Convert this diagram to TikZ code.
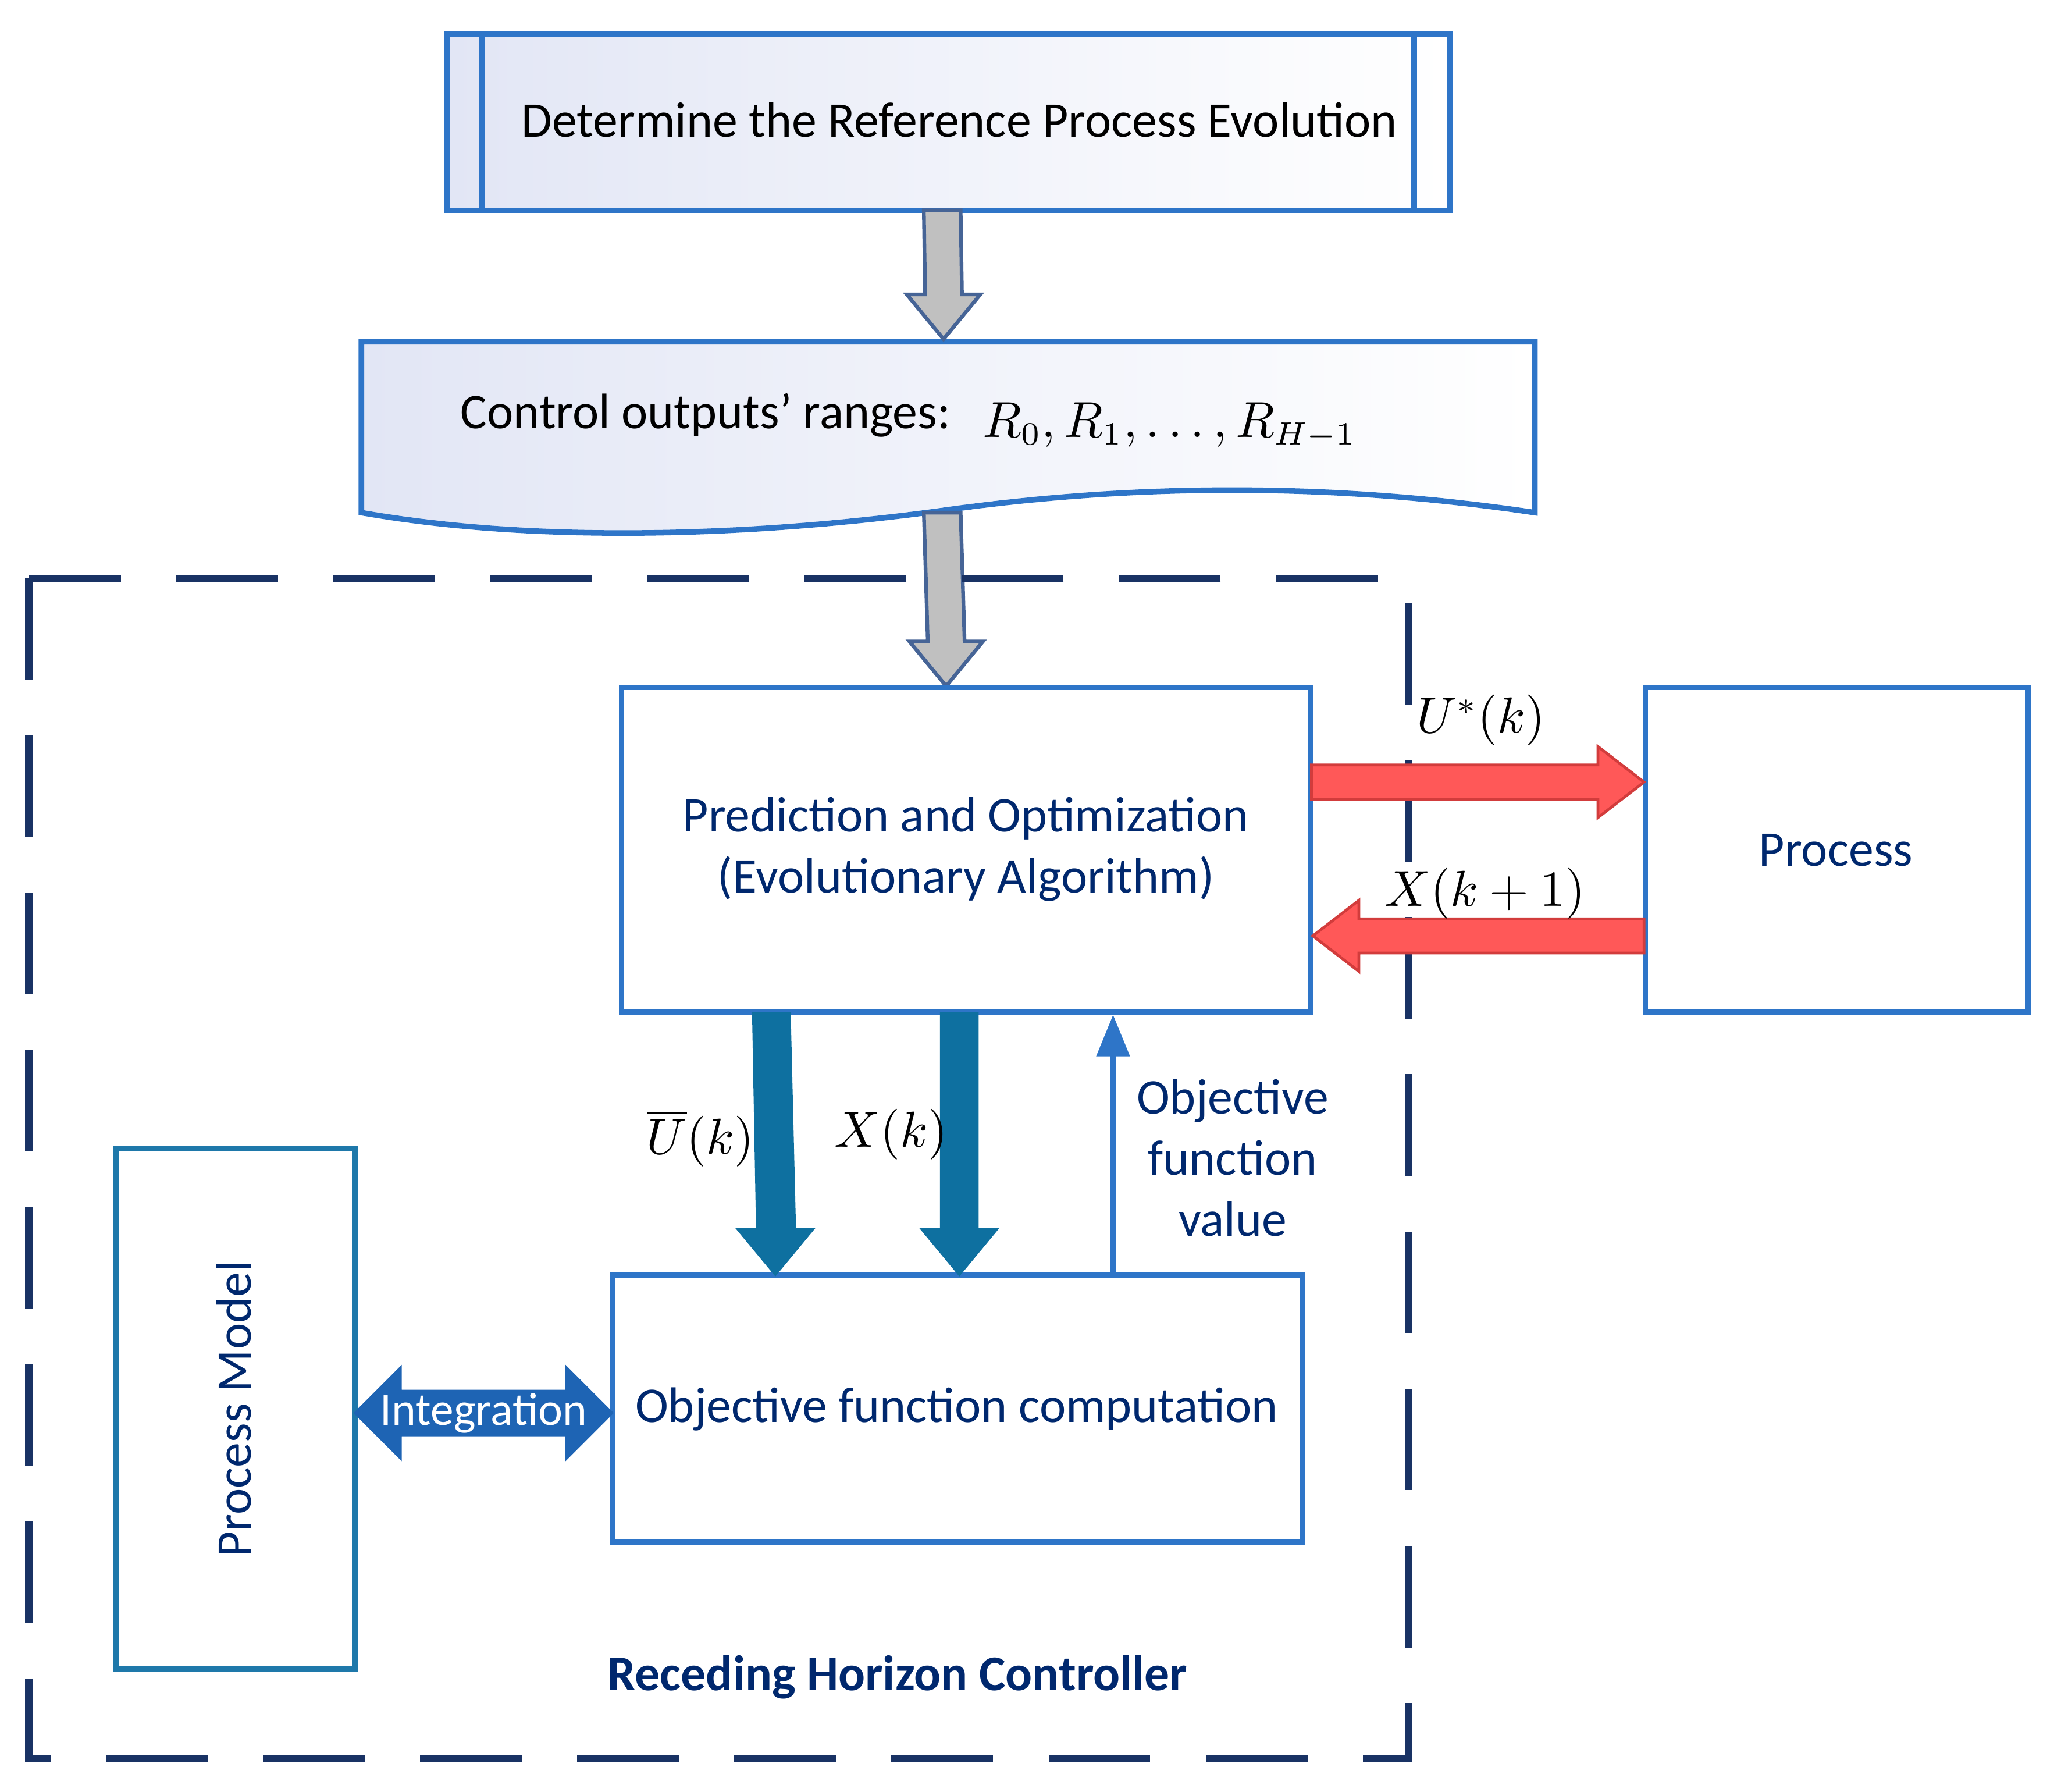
\documentclass[tikz,border=0pt]{standalone}
\usepackage{fontspec}
\setmainfont{Carlito}
\usetikzlibrary{calc,arrows.meta}
\definecolor{boxblue}{RGB}{46,117,200}
\definecolor{navy}{RGB}{0,40,110}
\definecolor{dashnavy}{RGB}{25,50,100}
\definecolor{redfill}{RGB}{255,88,88}
\definecolor{redline}{RGB}{210,60,60}
\definecolor{tealblue}{RGB}{14,112,160}
\definecolor{pmline}{RGB}{30,120,170}
\definecolor{grayfill}{RGB}{192,192,192}
\definecolor{grayline}{RGB}{70,100,150}
\definecolor{dblue}{RGB}{30,100,180}
\definecolor{shade}{RGB}{226,230,245}
\begin{document}
\begin{tikzpicture}[x=0.01cm,y=-0.01cm,
  box/.style={draw=boxblue,line width=1.2pt},
  txt/.style={text=navy,font=\fontsize{10.8}{13.2}\selectfont,align=center},
  mth/.style={font=\fontsize{10.5}{12}\selectfont},
  grayarr/.style={fill=grayfill,draw=grayline,line width=0.8pt},
  redarr/.style={fill=redfill,draw=redline,line width=0.6pt},
  bluearr/.style={fill=tealblue,draw=tealblue}]
\useasboundingbox (0,0) rectangle (1563,1363);
% top predefined process
\shade[left color=shade,right color=white] (340,26) rectangle (1103,160);
\draw[box] (340,26) rectangle (1103,160);
\draw[box] (367,26) -- (367,160) (1076,26) -- (1076,160);
\node[txt,text=black] (top) at (730,91) {Determine the Reference Process Evolution};
% document shape
\shade[left color=shade,right color=white] (275,260) -- (1168,260) -- (1168,390)
  .. controls (1000,365) and (850,370) .. (720,388)
  .. controls (560,410) and (400,412) .. (275,390) -- cycle;
\draw[box] (275,260) -- (1168,260) -- (1168,390)
  .. controls (1000,365) and (850,370) .. (720,388)
  .. controls (560,410) and (400,412) .. (275,390) -- cycle;
\node[txt,text=black] (rng) at (537,316) {Control outputs’ ranges:};
\node[mth,text=black] (rmath) at (890,324) {$R_0,R_1,\ldots,R_{H-1}$};
% gray arrows
\draw[grayarr] (703,160) -- (731,160) -- (732,224) -- (746,224) -- (718,258) -- (690,224) -- (704,224) -- cycle;
\draw[grayarr] (703,390) -- (731,390) -- (734,488) -- (748,488) -- (720,522) -- (692,488) -- (706,488) -- cycle;
% dashed controller frame
\draw[dashnavy,line width=1.6pt,dash pattern=on 22pt off 12pt] (22,440) rectangle (1072,1338);
\node[text=navy,font=\bfseries\fontsize{10.8}{13}\selectfont] (rhc) at (683,1276) {Receding Horizon Controller};
% boxes
\draw[box,fill=white] (473,523) rectangle (997,770);
\node[txt] (pred) at (735,646) {Prediction and Optimization\\(Evolutionary Algorithm)};
\draw[box] (1252,523) rectangle (1543,770);
\node[txt] (proc) at (1397,647) {Process};
\draw[box] (466,970) rectangle (991,1173);
\node[txt] (obj) at (728,1072) {Objective function computation};
\draw[draw=pmline,line width=1.2pt] (88,874) rectangle (270,1270);
\node[txt,rotate=90] (pm) at (178,1072) {Process Model};
% red arrows
\draw[redarr] (998,582) -- (1216,582) -- (1216,568) -- (1251,595) -- (1216,622) -- (1216,608) -- (998,608) -- cycle;
\draw[redarr] (1251,699) -- (1034,699) -- (1034,685) -- (999,712) -- (1034,739) -- (1034,725) -- (1251,725) -- cycle;
\node[mth] (ustar) at (1127,548) {$U^*(k)$};
\node[mth] (xk1) at (1130,680) {$X(k+1)$};
% blue arrows down
\draw[bluearr] (573,771) -- (601,771) -- (605,935) -- (619,935) -- (590,970) -- (561,935) -- (576,935) -- cycle;
\draw[bluearr] (716,771) -- (744,771) -- (744,935) -- (759,935) -- (730,970) -- (701,935) -- (716,935) -- cycle;
\node[mth] (ubar) at (533,866) {$\overline{U}(k)$};
\node[mth] (xk) at (678,863) {$X(k)$};
% thin up arrow
\draw[boxblue,line width=1.2pt,-{Triangle[width=7pt,length=9pt]}] (847,970) -- (847,772);
\node[txt] (ofv) at (938,881) {Objective\\function\\value};
% integration double arrow
\draw[fill=dblue,draw=dblue] (270,1075) -- (305,1040) -- (305,1058) -- (431,1058) -- (431,1040) -- (466,1075)
  -- (431,1110) -- (431,1092) -- (305,1092) -- (305,1110) -- cycle;
\node[txt,text=white,font=\fontsize{10}{12}\selectfont] (integ) at (368,1075) {Integration};
\end{tikzpicture}
\end{document}
